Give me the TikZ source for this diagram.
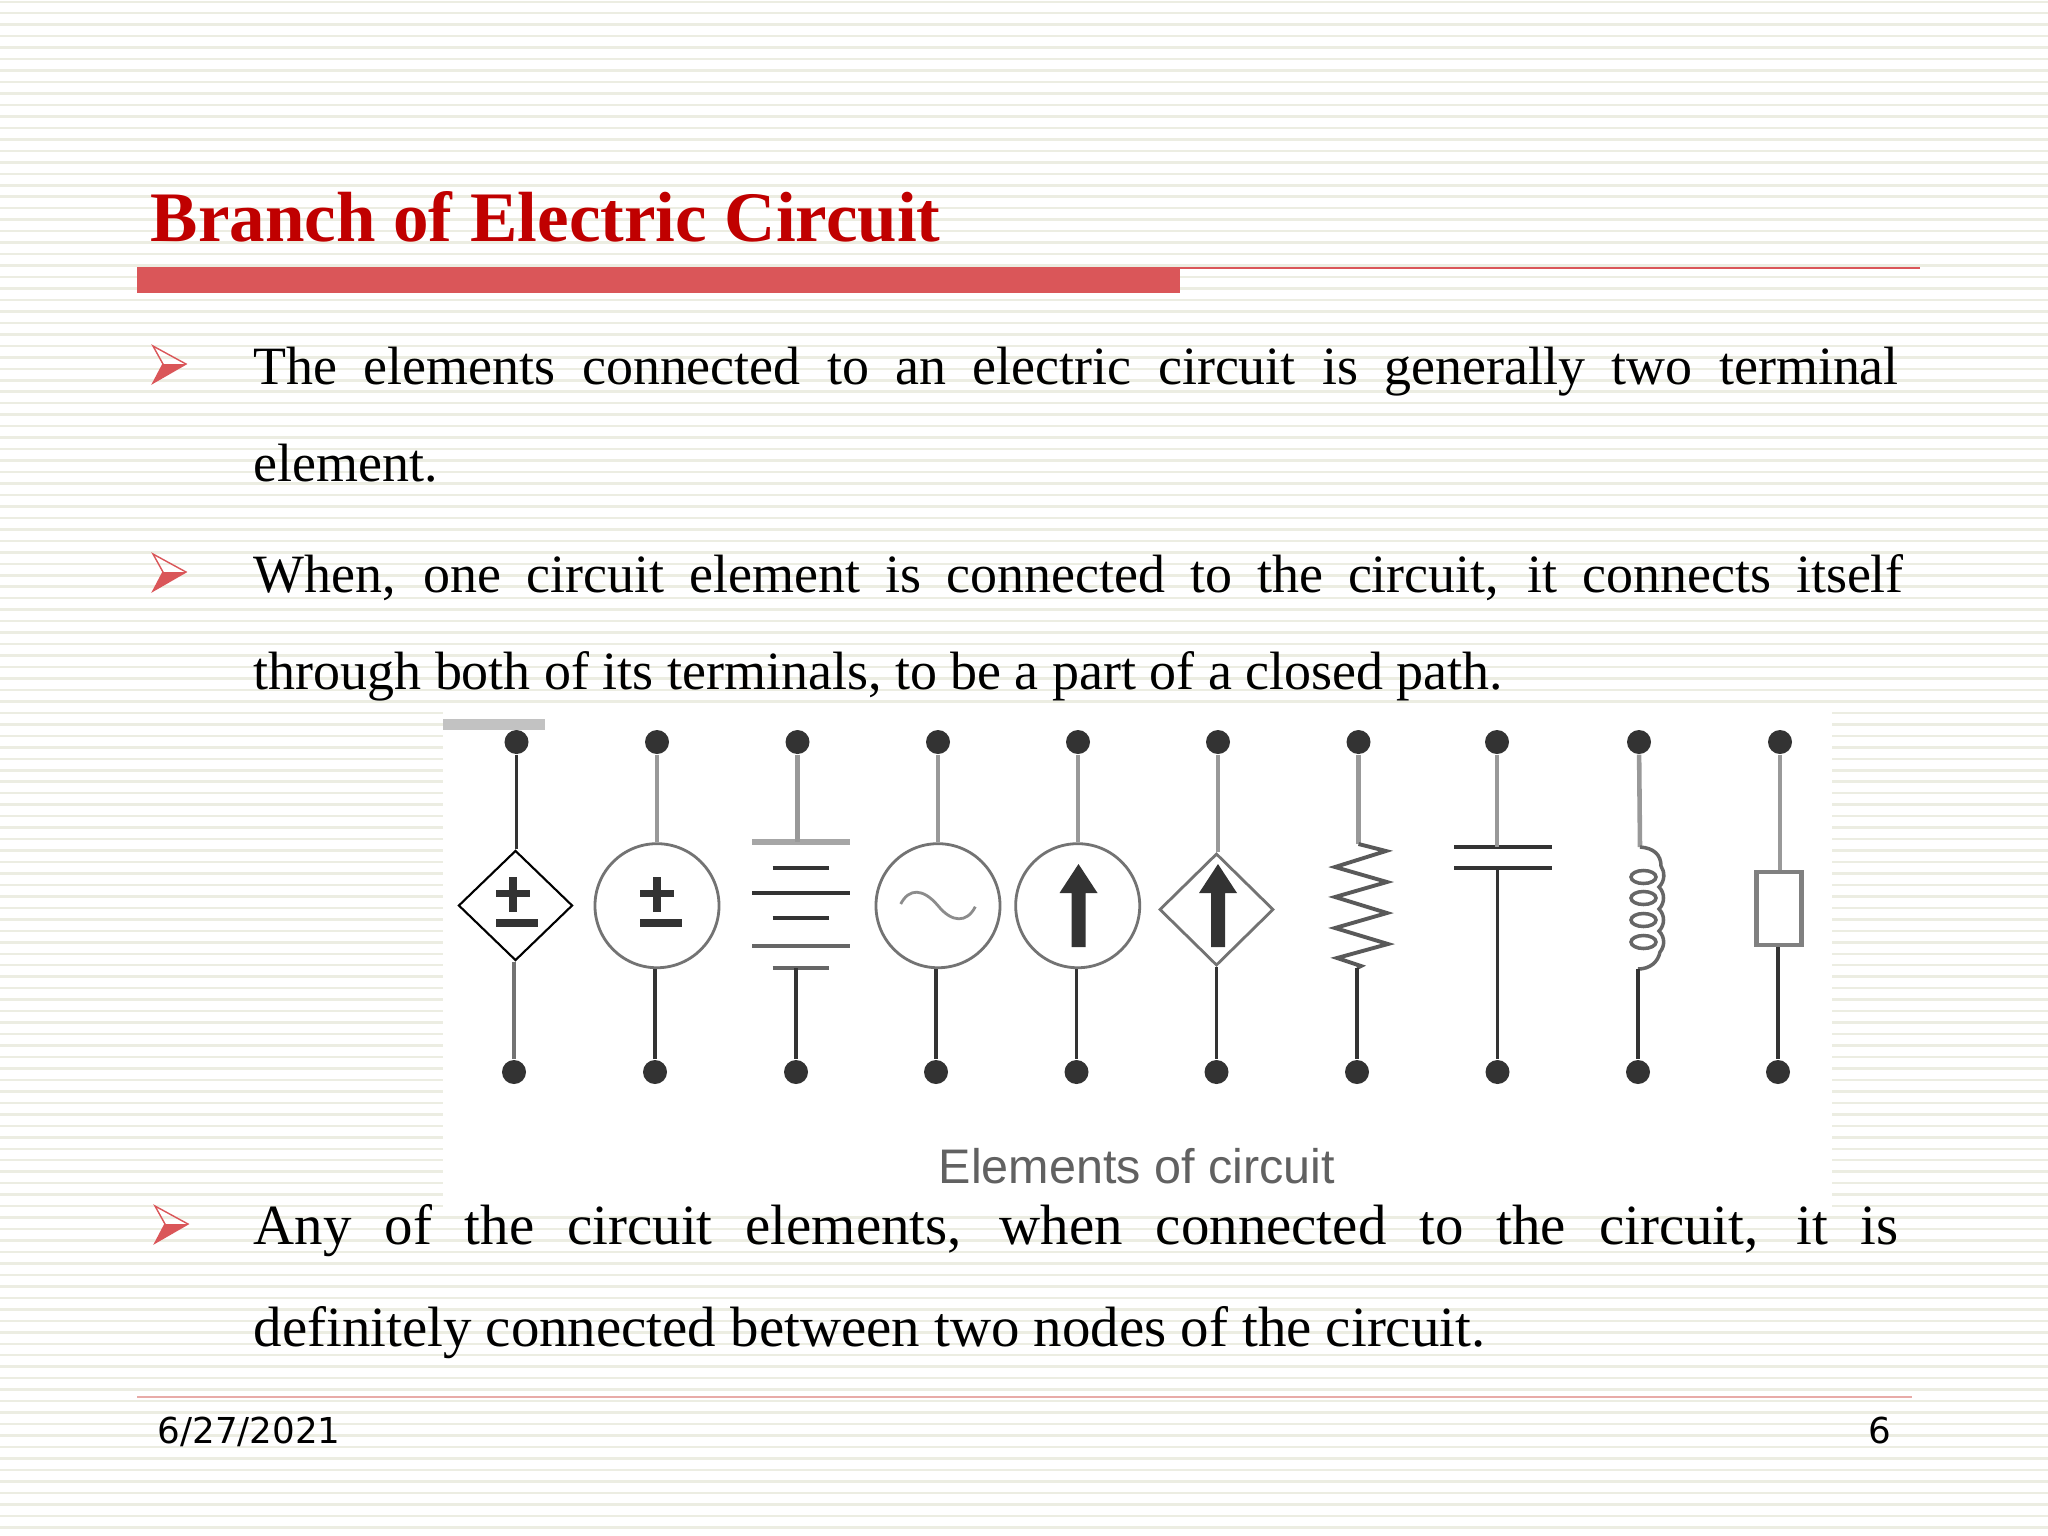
\documentclass[tikz,border=0pt]{standalone}
\usepackage{fontspec}
\setmainfont{Liberation Serif}
\newfontfamily\footfont{DejaVu Sans}
\newfontfamily\capfont{Liberation Sans}
\usetikzlibrary{shapes.geometric}

\definecolor{stripecol}{HTML}{ECEDE2}
\definecolor{titlered}{HTML}{C00000}
\definecolor{barred}{HTML}{DA5659}
\definecolor{footline}{HTML}{E8ABA8}
\definecolor{ink}{HTML}{333333}

\tikzset{
    bodytext/.style={anchor=base west,inner sep=0pt,font=\fontsize{15.34}{18}\selectfont,text=black},
    lasttext/.style={bodytext,font=\fontsize{16.17}{19}\selectfont},
    termdot/.style={circle,fill=ink,inner sep=0pt,minimum size=0.24cm},
    uplead/.style={line width=1.3pt,draw=black!40},
    downlead/.style={line width=1pt,draw=ink},
    rimline/.style={line width=0.8pt,draw=black!55},
    srcround/.style={circle,rimline,inner sep=0pt,minimum size=1.24cm},
    srcdiamond/.style={diamond,rimline,inner sep=0pt,minimum width=1.14cm,minimum height=1.1cm},
    plate/.style={line width=1.1pt,draw=ink},
    pics/bulletmark/.style={code={
        \fill[barred] (0,0) -- (-23,0) -- (-33,19) -- cycle;
        \draw[barred,line width=0.4pt,line join=miter] (0,0) -- (-33,-18) -- (-23,0) -- (-33,19) -- cycle;
    }},
    pics/plusminus/.style={code={
        \fill[ink] (-17,-3.5) rectangle (17,3.5);
        \fill[ink] (-4,-16.5) rectangle (4,18.5);
        \fill[ink] (-17,26) rectangle (25,34);
    }},
    pics/bigarrow/.style={code={
        \fill[ink] (0,0) -- (19,29) -- (7,29) -- (7,83) -- (-7,83) -- (-7,29) -- (-19,29) -- cycle;
    }},
}

\begin{document}
\begin{tikzpicture}[x=0.01cm,y=-0.01cm]
    \useasboundingbox (0,0) rectangle (2048,1536);
    \fill[white] (0,0) rectangle (2048,1536);
    % ruled background
    \foreach \k in {0,...,133}
        \fill[stripecol] (0,{0.5+11.47*\k}) rectangle (2048,{3+11.47*\k});

    % title and rules
    \node[anchor=base west,inner sep=0pt,font=\fontsize{20.2}{24}\selectfont\bfseries,text=titlered] (title) at (150,241) {Branch of Electric Circuit};
    \fill[barred] (137,267) rectangle (1180,293);
    \draw[barred,line width=0.4pt] (1180,268) -- (1920,268);

    % white patch of the figure
    \fill[white] (443,712) rectangle (1832,1207);
    \fill[black!24] (443,719) rectangle (545,730);

    % bullets and text
    \pic at (186,364) {bulletmark};
    \pic at (186,572) {bulletmark};
    \pic at (188,1224) {bulletmark};
    \node[bodytext] (p1a) at (253,384) {\makebox[16.44cm][s]{The elements connected to an electric circuit is generally two terminal}};
    \node[bodytext] (p1b) at (253,481) {element.};
    \node[bodytext] (p2a) at (253,592) {\makebox[16.49cm][s]{When, one circuit element is connected to the circuit, it connects itself}};
    \node[bodytext] (p2b) at (253,689) {through both of its terminals, to be a part of a closed path.};
    \node[lasttext] (p3a) at (253,1244) {\makebox[16.44cm][s]{Any of the circuit elements, when connected to the circuit, it is}};
    \node[lasttext] (p3b) at (253,1346) {definitely connected between two nodes of the circuit.};

    % terminals
    \node[termdot] (t1) at (516.5,742) {};
    \node[termdot] (b1) at (514,1072) {};
    \node[termdot] (t2) at (657,742) {};
    \node[termdot] (b2) at (655,1072) {};
    \node[termdot] (t3) at (797.5,742) {};
    \node[termdot] (b3) at (796,1072) {};
    \node[termdot] (t4) at (938,742) {};
    \node[termdot] (b4) at (936,1072) {};
    \node[termdot] (t5) at (1078,742) {};
    \node[termdot] (b5) at (1076.5,1072) {};
    \node[termdot] (t6) at (1218,742) {};
    \node[termdot] (b6) at (1216.5,1072) {};
    \node[termdot] (t7) at (1358.5,742) {};
    \node[termdot] (b7) at (1357,1072) {};
    \node[termdot] (t8) at (1497,742) {};
    \node[termdot] (b8) at (1497.5,1072) {};
    \node[termdot] (t9) at (1639,742) {};
    \node[termdot] (b9) at (1638,1072) {};
    \node[termdot] (t10) at (1780,742) {};
    \node[termdot] (b10) at (1778,1072) {};

    % dependent voltage source
    \node[srcdiamond,draw=black,line width=0.6pt] (e1) at (515.5,905.5) {};
    \draw[downlead] (t1) -- (t1 |- e1.north);
    \draw[uplead,draw=black!55] (b1 |- e1.south) -- (b1);
    \pic at (513,893) {plusminus};

    % voltage source
    \node[srcround] (e2) at (657,905.7) {};
    \draw[uplead] (t2) -- (t2 |- e2.north);
    \draw[downlead] (b2 |- e2.south) -- (b2);
    \pic at (657,893) {plusminus};

    % battery
    \coordinate (c3a) at (797.5,842);
    \coordinate (c3b) at (796,968);
    \draw[line width=1.8pt,draw=black!35] (752,842) -- (850,842);
    \draw[plate] (772.5,868) -- (829,868);
    \draw[plate] (752,893) -- (850,893);
    \draw[plate] (772.5,918) -- (829,918);
    \draw[plate,draw=black!60,line width=1.3pt] (752,946) -- (850,946);
    \draw[plate,draw=black!60,line width=1.3pt] (772.5,968) -- (829,968);
    \draw[uplead] (t3) -- (c3a);
    \draw[downlead] (c3b) -- (b3);

    % ac source
    \node[srcround] (e4) at (938,905.7) {};
    \draw[uplead] (t4) -- (t4 |- e4.north);
    \draw[downlead] (b4 |- e4.south) -- (b4);
    \draw[rimline,draw=black!45] (900.7,904) .. controls (909,888) and (923,888) .. (938,905.7) .. controls (952,923) and (967,923) .. (975.3,906.7);

    % current source
    \node[srcround] (e5) at (1077.7,905.7) {};
    \draw[uplead] (t5) -- (t5 |- e5.north);
    \draw[downlead] (b5 |- e5.south) -- (b5);
    \pic at (1078.5,864) {bigarrow};

    % dependent current source
    \node[srcdiamond,minimum height=1.12cm] (e6) at (1216.5,909.5) {};
    \draw[uplead] (t6) -- (t6 |- e6.north);
    \draw[downlead] (b6 |- e6.south) -- (b6);
    \pic at (1218,864) {bigarrow};

    % resistor
    \coordinate (c7a) at (1358.5,844);
    \coordinate (c7b) at (1357,968);
    \draw[uplead] (t7) -- (c7a);
    \draw[line width=1.1pt,draw=black!65,line join=miter] (c7a) -- (1386,851) -- (1335,867) -- (1387,882) -- (1335,897) -- (1387,913) -- (1335,928) -- (1388,944) -- (1337,958) -- (1361,966) -- (c7b);
    \draw[downlead] (c7b) -- (b7);

    % capacitor
    \coordinate (c8a) at (1497,847);
    \coordinate (c8b) at (1497.5,868);
    \draw[plate] (1454,847) -- (1552,847);
    \draw[plate] (1454,868) -- (1552,868);
    \draw[uplead,line width=1.1pt] (t8) -- (c8a);
    \draw[downlead] (c8b) -- (b8);

    % inductor
    \coordinate (c9a) at (1640,847);
    \coordinate (c9b) at (1638,969);
    \draw[uplead] (t9) -- (c9a);
    \draw[line width=1pt,draw=black!60] (c9a) .. controls (1654,848) and (1661,855) .. (1661,866)
        .. controls (1665,872) and (1665,881) .. (1659,887)
        .. controls (1665,893) and (1665,903) .. (1659,909)
        .. controls (1665,915) and (1665,925) .. (1659,931)
        .. controls (1665,937) and (1665,946) .. (1660,952)
        .. controls (1658,962) and (1650,969) .. (c9b);
    \foreach \cy in {877,898,920,942}
        \draw[line width=1pt,draw=black!60] (1643.5,\cy) circle [x radius=12.5,y radius=6.5];
    \draw[downlead] (c9b) -- (b9);

    % generic element
    \node[draw=black!50,line width=1.3pt,inner sep=0pt,minimum width=0.45cm,minimum height=0.727cm] (e10) at (1779,908.5) {};
    \draw[uplead] (t10) -- (t10 |- e10.north);
    \draw[downlead] (b10 |- e10.south) -- (b10);

    % caption
    \node[anchor=base,inner sep=0pt,font=\capfont\fontsize{13.8}{16}\selectfont,text=black!62] (cap) at (1137,1183) {Elements of circuit};

    % footer
    \draw[footline,line width=0.5pt] (137,1397) -- (1912,1397);
    \node[anchor=base west,inner sep=0pt,font=\footfont\fontsize{10.15}{12}\selectfont,text=black] (fdate) at (157,1443) {6/27/2021};
    \node[anchor=base,inner sep=0pt,font=\footfont\fontsize{10.15}{12}\selectfont,text=black] (fpage) at (1880,1443) {6};
\end{tikzpicture}
\end{document}
